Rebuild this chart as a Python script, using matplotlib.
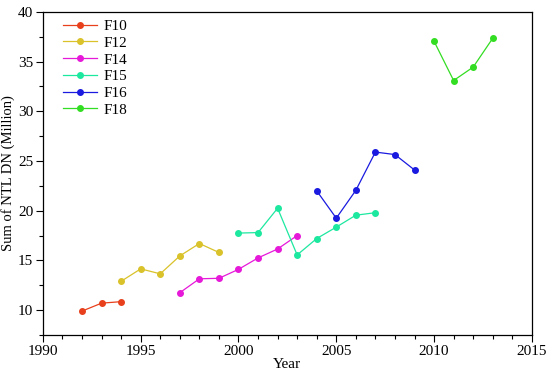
import matplotlib
matplotlib.use("Agg")
import matplotlib.pyplot as plt
from matplotlib.ticker import MultipleLocator

plt.rcParams['font.family'] = ['Liberation Serif', 'DejaVu Serif']

# data
labels = ['F10', 'F12', 'F14', 'F15', 'F16', 'F18']
colors = ['#e8401c', '#d9c22a', '#e619d9', '#1de8a0', '#1a1ae0', '#33dd22']

years_f10 = [1992, 1993, 1994]
vals_f10 = [9.9, 10.7, 10.85]
years_f12 = [1994, 1995, 1996, 1997, 1998, 1999]
vals_f12 = [12.9, 14.15, 13.65, 15.45, 16.7, 15.8]
years_f14 = [1997, 1998, 1999, 2000, 2001, 2002, 2003]
vals_f14 = [11.75, 13.15, 13.2, 14.1, 15.25, 16.15, 17.5]
years_f15 = [2000, 2001, 2002, 2003, 2004, 2005, 2006, 2007]
vals_f15 = [17.75, 17.8, 20.25, 15.55, 17.2, 18.35, 19.55, 19.8]
years_f16 = [2004, 2005, 2006, 2007, 2008, 2009]
vals_f16 = [22.0, 19.25, 22.05, 25.9, 25.65, 24.1]
years_f18 = [2010, 2011, 2012, 2013]
vals_f18 = [37.05, 33.1, 34.45, 37.35]

series = [(years_f10, vals_f10), (years_f12, vals_f12), (years_f14, vals_f14),
          (years_f15, vals_f15), (years_f16, vals_f16), (years_f18, vals_f18)]

fig = plt.figure(figsize=(5.5, 3.73), dpi=100)
ax = fig.add_axes([0.078, 0.102, 0.889, 0.866])

for (x, y), lab, c in zip(series, labels, colors):
    ax.plot(x, y, color=c, lw=0.9, marker='o', ms=4, mfc=c, mec=c, label=lab)

ax.set_xlim(1990, 2015)
ax.set_ylim(7.5, 40)
ax.xaxis.set_major_locator(MultipleLocator(5))
ax.xaxis.set_minor_locator(MultipleLocator(1))
ax.yaxis.set_major_locator(MultipleLocator(5))
ax.yaxis.set_minor_locator(MultipleLocator(2.5))
ax.tick_params(which='major', direction='out', length=5, width=0.8,
               labelsize=11, pad=2)
ax.tick_params(which='minor', direction='out', length=3, width=0.8)
for s in ax.spines.values():
    s.set_linewidth(0.9)

ax.set_xlabel('Year', fontsize=11, labelpad=0)
ax.set_ylabel('Sum of NTL DN (Million)', fontsize=10.5, labelpad=2)

ax.legend(loc='upper left', bbox_to_anchor=(0.02, 1.01), frameon=False,
          fontsize=11, handlelength=2.2, labelspacing=0.2,
          borderaxespad=0.3, handletextpad=0.4)

fig.savefig('out.png', dpi=100)
